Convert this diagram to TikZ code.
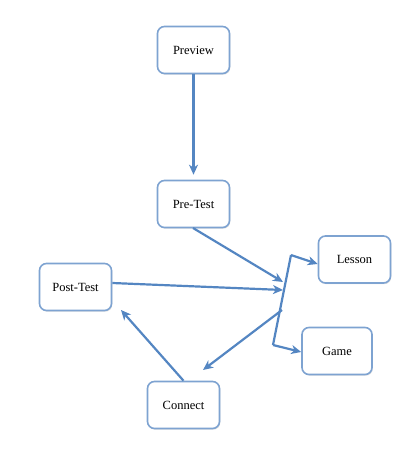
\documentclass[tikz,border=0pt]{standalone}
\usepackage{fontspec}
\setmainfont{Liberation Serif}
\usetikzlibrary{arrows.meta,shadows}
\definecolor{boxline}{RGB}{126,163,209}
\definecolor{arrowblue}{RGB}{84,134,194}
\tikzset{
  stepbox/.style={draw=boxline, line width=1.6pt, rounded corners=7pt, fill=white,
    minimum width=72pt, minimum height=47pt, inner sep=0pt,
    font=\fontsize{12.5}{14}\selectfont,
    drop shadow={shadow xshift=0.8pt, shadow yshift=-1.2pt, opacity=0.25, fill=gray}},
  flow/.style={draw=arrowblue, line width=2.2pt, -{Stealth[length=10pt,width=9pt,inset=3pt]}},
  plain/.style={draw=arrowblue, line width=2.2pt}
}
\begin{document}
\begin{tikzpicture}[x=1pt,y=-1pt]
\useasboundingbox (0,0) rectangle (408,453);
\node[stepbox] (preview) at (193.5,50) {Preview};
\node[stepbox] (pretest) at (193.5,204) {Pre-Test};
\node[stepbox] (posttest) at (75.5,287) {Post-Test};
\node[stepbox] (connect) at (183.5,405) {Connect};
\node[stepbox] (lesson) at (354.5,259.5) {Lesson};
\node[stepbox, minimum width=70pt] (game) at (337,351) {Game};
\coordinate (bt) at (291,255);
\coordinate (bb) at (273,345);
\coordinate (bm) at (282,310);
\coordinate (in1) at (283,282);
\coordinate (in2) at (283,290);
\coordinate (outc) at (203,370);
\coordinate (outp) at (121,310);
\draw[flow, shorten >=5pt] (preview.south) -- (pretest.north);
\draw[flow] (193,228) -- (in1);
\draw[flow] (posttest.east |- 0,283) -- (in2);
\draw[plain, line join=miter] (bb) -- (bt);
\draw[flow] (bt) -- (lesson.west |- 0,264);
\draw[flow] (bb) -- (game.west |- 0,352);
\draw[flow] (bm) -- (outc);
\draw[flow] (connect.north) -- (outp);
\end{tikzpicture}
\end{document}
